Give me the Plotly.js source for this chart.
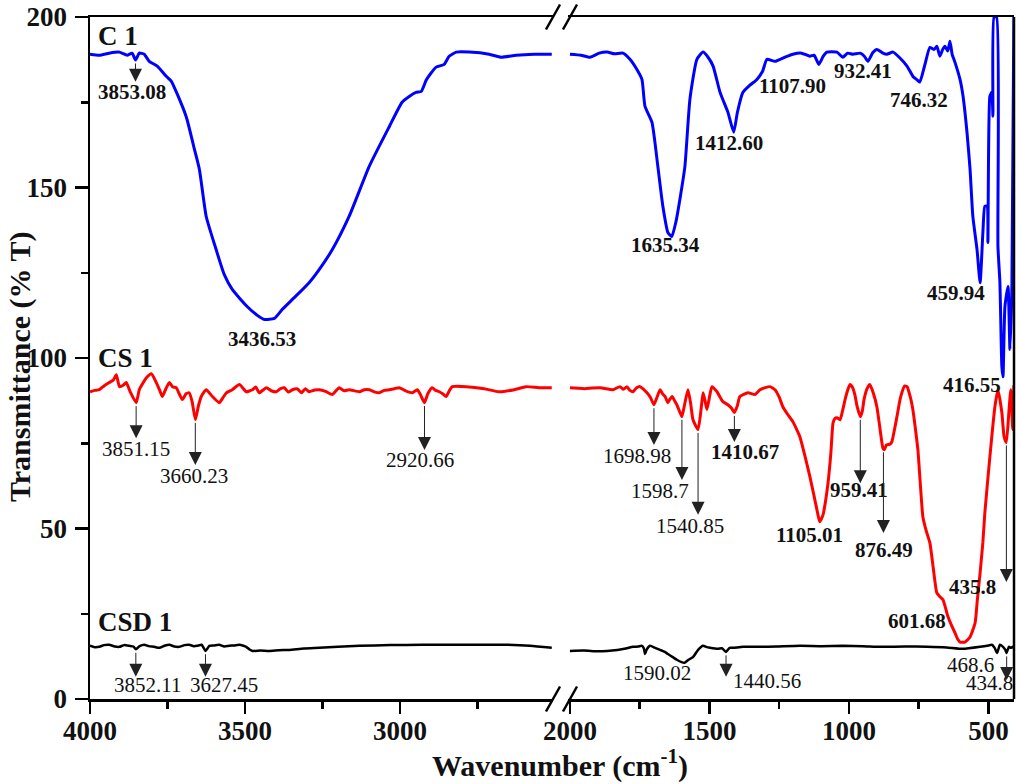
<!DOCTYPE html>
<html>
<head>
<meta charset="utf-8">
<script src="https://cdn.plot.ly/plotly-3.0.1.min.js"></script>
<style>
  html, body { margin: 0; padding: 0; background: #ffffff; }
  #chart { width: 1020px; height: 784px; }
</style>
</head>
<body>
<div id="chart"></div>
<script>
// FTIR transmittance spectra of C 1, CS 1 and CSD 1 (wavenumber in cm-1, descending).

const c1Wavenumber = [
  4000, 3970, 3938, 3905, 3880, 3864, 3853, 3841, 3825, 3809, 3783, 3754, 3738, 3718, 3689,
  3663, 3647, 3625, 3593, 3567, 3541, 3493, 3460, 3437, 3405, 3380, 3341, 3293, 3260, 3218,
  3164, 3099, 3034, 2993, 2970, 2948, 2931, 2915, 2900, 2883, 2857, 2841, 2818, 2776, 2712,
  2673, 2625, 2567, 2510,
  2000, 1960, 1928, 1895, 1867, 1840, 1810, 1785, 1760, 1742, 1731, 1706, 1685, 1667, 1649,
  1635, 1620, 1606, 1588, 1570, 1545, 1523, 1505, 1487, 1462, 1434, 1413, 1400, 1380, 1355,
  1330, 1310, 1294, 1265, 1230, 1201, 1170, 1140, 1125, 1108, 1092, 1079, 1043, 1022, 1005,
  986, 960, 945, 932, 915, 900, 880, 864, 842, 820, 792, 770, 755, 746, 728,
  710, 695, 685, 674, 664, 656, 646, 638, 630, 620, 602, 591, 577, 566, 556,
  541, 530, 520, 513, 505, 502, 495, 488, 484, 480, 471, 466, 459, 452, 448,
  441, 430, 423, 416, 409
];
const c1Transmittance = [
  189.1, 188.8, 189.4, 189.7, 188.8, 189.4, 187.4, 189.4, 189.1, 187.0, 185.6, 182.6, 181.2, 177.3, 170.6,
  161.2, 155.3, 141.5, 131.8, 124.5, 120.1, 115.1, 112.5, 111.3, 111.6, 114.2, 117.7, 122.1, 126.0, 131.8,
  141.5, 156.2, 167.9, 175.0, 176.7, 177.9, 178.2, 181.5, 183.5, 185.3, 186.1, 188.5, 189.7, 189.7, 189.1,
  188.2, 188.8, 189.1, 189.1,
  189.1, 188.8, 188.2, 189.4, 189.7, 189.2, 189.4, 187.6, 184.6, 181.7, 173.8, 169.1, 156.2, 144.5, 136.8,
  135.6, 140.0, 146.5, 156.2, 175.9, 187.6, 189.7, 188.2, 185.6, 177.9, 172.1, 166.2, 172.0, 177.9, 180.0,
  181.7, 184.0, 187.6, 187.0, 188.2, 189.1, 189.4, 188.5, 188.8, 186.1, 188.5, 189.7, 189.7, 188.2, 189.4,
  189.1, 189.4, 188.5, 187.0, 189.5, 190.5, 189.5, 189.1, 189.7, 188.2, 185.6, 182.5, 181.5, 180.9, 186.0,
  191.1, 190.5, 191.4, 188.5, 190.5, 191.4, 190.0, 192.9, 189.0, 186.7, 181.7, 176.7, 166.2, 155.3, 141.5,
  131.8, 122.1, 136.8, 144.5, 144.5, 133.9, 176.7, 177.9, 170.9, 200.0, 200.0, 132.7, 122.1, 97.5, 94.5,
  115.1, 121.0, 102.5, 121.0, 200.0
];

const cs1Wavenumber = [
  4000, 3985, 3970, 3955, 3938, 3925, 3915, 3905, 3893, 3883, 3870, 3851, 3841, 3830, 3818,
  3802, 3786, 3775, 3767, 3755, 3744, 3733, 3722, 3712, 3702, 3690, 3680, 3670, 3660, 3650,
  3641, 3625, 3605, 3583, 3570, 3560, 3541, 3518, 3505, 3496, 3476, 3465, 3454, 3431, 3415,
  3399, 3385, 3373, 3360, 3347, 3330, 3318, 3305, 3293, 3275, 3260, 3240, 3218, 3205, 3196,
  3180, 3164, 3131, 3115, 3099, 3080, 3067, 3050, 3034, 3018, 3002, 2980, 2960, 2944, 2935,
  2921, 2910, 2896, 2885, 2873, 2862, 2851, 2840, 2831, 2786, 2728, 2680, 2631, 2593, 2551,
  2510,
  2000, 1970, 1946, 1920, 1892, 1870, 1846, 1821, 1808, 1796, 1785, 1774, 1762, 1749, 1736,
  1724, 1712, 1699, 1688, 1677, 1668, 1659, 1649, 1641, 1634, 1625, 1617, 1608, 1599, 1590,
  1577, 1568, 1559, 1541, 1530, 1523, 1516, 1509, 1500, 1491, 1473, 1452, 1434, 1420, 1411,
  1400, 1391, 1362, 1337, 1319, 1300, 1283, 1265, 1250, 1237, 1220, 1201, 1190, 1176, 1160,
  1140, 1125, 1111, 1105, 1099, 1093, 1085, 1075, 1065, 1057, 1050, 1043, 1032, 1023, 1014,
  1005, 996, 988, 979, 970, 959, 952, 946, 935, 925, 912, 900, 890, 878, 873,
  866, 860, 852, 846, 838, 828, 815, 800, 792, 780, 771, 763, 753, 745, 735,
  722, 710, 698, 685, 674, 663, 645, 632, 620, 610, 602, 584, 566, 548, 540,
  530, 520, 513, 495, 477, 466, 452, 444, 436, 427, 420, 413, 409
];
const cs1Transmittance = [
  90.1, 90.5, 90.7, 91.8, 92.8, 93.5, 95.1, 91.6, 92.0, 92.8, 90.0, 86.9, 90.7, 92.5, 94.2,
  95.4, 92.8, 90.5, 88.7, 91.0, 92.8, 91.5, 91.3, 89.5, 87.8, 89.5, 89.8, 87.0, 81.9, 86.0,
  88.7, 90.7, 88.7, 86.9, 88.5, 89.8, 90.7, 92.2, 91.0, 90.1, 90.7, 91.5, 89.8, 91.3, 90.4,
  90.1, 91.0, 91.3, 90.0, 90.7, 90.9, 89.8, 91.0, 90.1, 90.6, 90.7, 90.2, 89.3, 90.5, 91.3,
  90.4, 90.7, 90.1, 90.7, 90.7, 90.0, 89.8, 90.5, 90.7, 91.0, 91.3, 90.3, 89.8, 90.7, 89.5,
  86.9, 89.5, 91.3, 90.5, 90.1, 89.5, 88.7, 90.5, 91.6, 91.6, 91.0, 90.1, 90.7, 91.6, 91.3,
  91.3,
  91.3, 91.1, 91.0, 91.2, 91.3, 91.0, 90.7, 91.6, 90.8, 91.6, 90.5, 90.1, 91.2, 91.6, 90.8,
  89.8, 88.5, 86.3, 88.5, 90.7, 89.5, 88.7, 86.9, 88.0, 88.7, 87.5, 86.3, 84.5, 82.8, 86.0,
  90.7, 87.0, 81.9, 79.0, 85.0, 89.8, 87.5, 84.9, 88.5, 91.6, 90.1, 87.2, 86.3, 85.2, 84.0,
  86.0, 88.7, 89.8, 89.3, 90.7, 91.3, 91.6, 90.7, 88.5, 85.7, 83.5, 81.3, 79.5, 76.9, 72.0,
  65.2, 59.5, 54.0, 52.0, 52.8, 54.0, 57.5, 63.4, 72.0, 81.0, 82.3, 82.5, 81.9, 84.5, 87.8,
  90.5, 92.2, 91.5, 89.3, 85.5, 82.8, 84.5, 87.8, 91.0, 92.2, 89.5, 85.7, 80.0, 73.5, 73.1,
  74.5, 74.6, 74.8, 75.5, 78.5, 82.8, 88.5, 91.8, 91.6, 88.5, 84.9, 80.0, 73.1, 64.0, 53.4,
  49.0, 45.8, 38.5, 31.1, 30.0, 29.1, 24.1, 21.5, 19.4, 17.5, 16.7, 16.7, 18.2, 22.3, 29.0,
  37.0, 46.0, 54.6, 71.0, 85.7, 90.7, 84.0, 76.9, 75.2, 84.0, 90.7, 79.0, 92.0
];

const csd1Wavenumber = [
  4000, 3985, 3970, 3955, 3938, 3920, 3905, 3890, 3873, 3860, 3852, 3840, 3825, 3810, 3793,
  3776, 3760, 3744, 3728, 3712, 3695, 3680, 3665, 3654, 3640, 3627, 3615, 3600, 3583, 3567,
  3551, 3535, 3518, 3505, 3496, 3485, 3476, 3450, 3421, 3390, 3357, 3310, 3260, 3200, 3131,
  3030, 2928, 2800, 2657, 2580, 2510,
  2000, 1950, 1900, 1867, 1830, 1800, 1774, 1755, 1742, 1735, 1731, 1725, 1713, 1695, 1677,
  1660, 1649, 1630, 1617, 1600, 1590, 1575, 1559, 1540, 1523, 1510, 1498, 1470, 1455, 1441,
  1428, 1416, 1380, 1319, 1260, 1176, 1100, 1022, 950, 889, 800, 720, 650, 592, 530,
  500, 488, 478, 469, 459, 448, 440, 435, 427, 420, 413, 409
];
const csd1Transmittance = [
  15.6, 15.2, 15.3, 15.8, 15.9, 15.4, 15.3, 15.8, 15.6, 15.4, 14.6, 15.5, 15.9, 15.5, 15.3,
  15.0, 15.6, 15.9, 15.4, 15.3, 15.8, 15.9, 15.5, 15.6, 15.9, 14.1, 15.6, 15.7, 15.9, 15.4,
  15.6, 15.7, 15.9, 15.6, 15.3, 14.5, 14.1, 14.2, 14.1, 14.3, 14.4, 14.8, 15.0, 15.3, 15.6,
  15.8, 15.9, 15.9, 15.9, 15.6, 15.0,
  14.1, 14.2, 14.0, 14.1, 14.4, 14.8, 15.3, 15.4, 15.6, 14.8, 13.2, 14.5, 15.6, 15.0, 14.4,
  13.8, 13.2, 12.2, 11.5, 10.8, 10.6, 11.5, 12.3, 14.5, 15.6, 15.2, 15.0, 14.7, 14.9, 13.8,
  15.0, 15.0, 15.3, 15.3, 15.4, 15.6, 15.5, 15.6, 15.5, 15.3, 15.4, 15.3, 15.1, 14.7, 15.3,
  15.7, 15.9, 15.0, 13.5, 15.9, 15.3, 14.5, 13.5, 15.3, 15.0, 15.3, 15.0
];

// Band positions marked on each spectrum (cm-1)
const c1Bands = ['3853.08', '3436.53', '1635.34', '1412.60', '1107.90', '932.41', '746.32', '459.94', '416.55'];
const cs1Bands = ['3851.15', '3660.23', '2920.66', '1698.98', '1598.7', '1540.85', '1410.67', '1105.01', '959.41', '876.49', '601.68', '435.8'];
const csd1Bands = ['3852.11', '3627.45', '1590.02', '1440.56', '468.6', '434.8'];

// Sample names
const sampleNames = ['C 1', 'CS 1', 'CSD 1'];

// ---------------------------------------------------------------------------

const FONT = 'Liberation Serif, Times New Roman, serif';
const BREAK_HIGH = 2506;   // low end of the high-wavenumber panel
const BREAK_LOW = 2007;    // high end of the low-wavenumber panel

function splitSeries(wn, t) {
  const hi = { x: [], y: [] }, lo = { x: [], y: [] };
  wn.forEach((w, i) => {
    if (w > 2250) { hi.x.push(w); hi.y.push(t[i]); }
    else { lo.x.push(w); lo.y.push(t[i]); }
  });
  return [hi, lo];
}

function valueAt(wn, t, w) {
  for (let i = 0; i < wn.length - 1; i++) {
    const a = wn[i], b = wn[i + 1];
    if (w <= a && w >= b) {
      if (a === b) return t[i];
      const f = (a - w) / (a - b);
      return t[i] + f * (t[i + 1] - t[i]);
    }
  }
  return t[t.length - 1];
}

const series = [
  { wn: c1Wavenumber, t: c1Transmittance, color: '#0000ff', width: 3 },
  { wn: cs1Wavenumber, t: cs1Transmittance, color: '#ff0000', width: 3 },
  { wn: csd1Wavenumber, t: csd1Transmittance, color: '#000000', width: 2.5 }
];

const traces = [];
series.forEach((s, k) => {
  const [hi, lo] = splitSeries(s.wn, s.t);
  [[hi, 'x'], [lo, 'x2']].forEach(([seg, ax]) => {
    traces.push({
      type: 'scatter', mode: 'lines', x: seg.x, y: seg.y,
      xaxis: ax, yaxis: 'y', name: sampleNames[k], showlegend: false,
      line: { color: s.color, width: s.width, shape: 'spline', smoothing: 0.5 },
      hoverinfo: 'x+y'
    });
  });
});

// Label placement: text centre (wavenumber, %T), arrow-head level (null = no arrow), bold
const c1Place = [
  [3865, 178.0, 181.0, true], [3445, 105.6, null, true], [1656, 133.1, null, true],
  [1430, 163.1, null, true], [1204, 179.8, null, true], [950, 184.2, null, true],
  [749, 175.7, null, true], [617, 119.1, null, true], [559, 92.1, null, true]
];
const cs1Place = [
  [3852, 73.3, 76.5, false], [3665, 65.4, 68.6, false], [2935, 70.1, 73.0, false],
  [1760, 71.3, 74.5, false], [1677, 61.0, 64.2, false], [1570, 50.7, 54.0, false],
  [1373, 72.4, 75.4, true], [1140, 48.1, null, true], [964, 61.3, 63.3, true],
  [875, 43.7, 48.7, true], [756, 22.9, null, true], [556, 32.8, 34.3, true]
];
const csd1Place = [
  [3816, 4.1, 6.5, false], [3568, 4.1, 6.5, false], [1688, 7.6, null, false],
  [1294, 5.3, 6.5, false], [566, 10.0, null, false], [495, 4.7, 5.6, false]
];

const annotations = [];
function axisFor(w) { return w > 2250 ? 'x' : 'x2'; }

function addBands(bands, place, s) {
  bands.forEach((txt, i) => {
    const [tx, ty, tip, bold] = place[i];
    annotations.push({
      xref: axisFor(tx), yref: 'y', x: tx, y: ty, text: txt, showarrow: false,
      xanchor: 'center', yanchor: 'middle',
      font: { family: FONT, size: 21, color: '#111', weight: bold ? 'bold' : 'normal' }
    });
    if (tip !== null) {
      const w = parseFloat(txt);
      const ax = axisFor(w);
      annotations.push({
        xref: ax, yref: 'y', x: w, y: tip,
        axref: ax, ayref: 'y', ax: w, ay: valueAt(s.wn, s.t, w) - 0.6,
        text: '', showarrow: true, arrowhead: 2, arrowsize: 2.6, arrowwidth: 1,
        arrowcolor: '#222', standoff: 0, startstandoff: 0
      });
    }
  });
}
addBands(c1Bands, c1Place, series[0]);
addBands(cs1Bands, cs1Place, series[1]);
addBands(csd1Bands, csd1Place, series[2]);

// Sample names at the left of each spectrum
[194.4, 100.0, 22.6].forEach((ty, k) => {
  annotations.push({
    xref: 'x', yref: 'y', x: 3980, y: ty, text: sampleNames[k], showarrow: false,
    xanchor: 'left', yanchor: 'middle',
    font: { family: FONT, size: 27, color: '#111', weight: 'bold' }
  });
});

const W = 924, H = 682;

// Axis titles (the x title is shared by both panels)
annotations.push({
  xref: 'paper', yref: 'paper', x: 0.509, y: -0.094, text: 'Wavenumber (cm<sup>-1</sup>)',
  showarrow: false, xanchor: 'center', yanchor: 'middle',
  font: { family: FONT, size: 30, color: '#111', weight: 'bold' }
});
annotations.push({
  xref: 'paper', yref: 'paper', x: (20 - 90) / W, y: (699 - 367) / H, text: 'Transmittance (% T)',
  textangle: -90, showarrow: false, xanchor: 'center', yanchor: 'middle',
  font: { family: FONT, size: 30, color: '#111', weight: 'bold' }
});

const leftEnd = 463 / W, rightStart = 478 / W;

function slash(x0px, y) {
  const dy = 12.5 / H;
  return {
    type: 'line', xref: 'paper', yref: 'paper',
    x0: (x0px - 90) / W, x1: (x0px + 14 - 90) / W, y0: y - dy, y1: y + dy,
    line: { color: '#000', width: 2.5 }
  };
}

const shapes = [
  { type: 'line', xref: 'paper', yref: 'paper', x0: 1, x1: 1, y0: 0, y1: 1, line: { color: '#000', width: 2.5 } },
  slash(546, 0), slash(563, 0), slash(546, 1), slash(563, 1)
];

const tickFont = { family: FONT, size: 27, color: '#111', weight: 'bold' };
const baseX = {
  showgrid: false, zeroline: false, showline: true, linewidth: 2.5, linecolor: '#000',
  mirror: true, ticks: 'outside', ticklen: 12, tickwidth: 2.5, tickcolor: '#000',
  dtick: 500, tick0: 0, tickfont: tickFont, anchor: 'y', ticklabelstandoff: -6,
  minor: { ticks: 'outside', ticklen: 7, tickwidth: 2.5, tickcolor: '#000', dtick: 250, tick0: 0, showgrid: false }
};

const layout = {
  width: 1020, height: 784,
  margin: { l: 90, r: 6, t: 17, b: 85 },
  paper_bgcolor: '#fff', plot_bgcolor: '#fff',
  showlegend: false,
  xaxis: Object.assign({}, baseX, { domain: [0, leftEnd], range: [4000, BREAK_HIGH] }),
  xaxis2: Object.assign({}, baseX, { domain: [rightStart, 1], range: [BREAK_LOW, 408.5] }),
  yaxis: {
    range: [0, 200], dtick: 50, tick0: 0, anchor: 'x',
    showgrid: false, zeroline: false, showline: true, linewidth: 2.5, linecolor: '#000',
    ticks: 'outside', ticklen: 13, tickwidth: 2.5, tickcolor: '#000', tickfont: tickFont,
    ticklabelstandoff: 2,
    minor: { ticks: 'outside', ticklen: 7, tickwidth: 2.5, tickcolor: '#000', dtick: 25, tick0: 0, showgrid: false }
  },
  annotations: annotations,
  shapes: shapes
};

Plotly.newPlot('chart', traces, layout, { displayModeBar: false, staticPlot: true });
</script>
</body>
</html>
